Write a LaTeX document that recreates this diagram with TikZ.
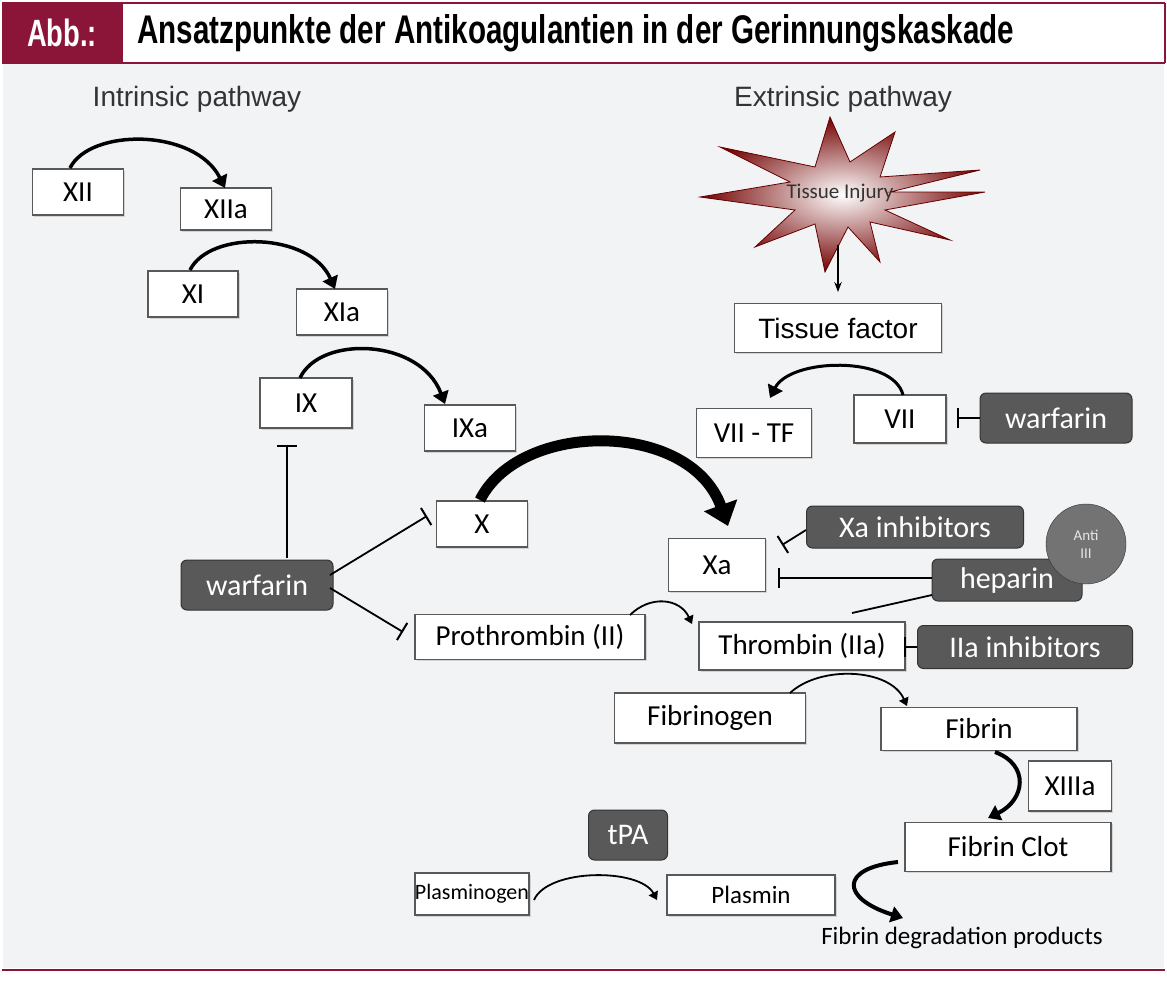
\documentclass[tikz,border=0pt]{standalone}
\usepackage{fontspec}
\setmainfont{Carlito}
\newfontfamily\arialf{Liberation Sans}
\usetikzlibrary{arrows.meta,shadows}
\definecolor{wine}{HTML}{8B1538}
\definecolor{bg}{HTML}{F2F3F5}
\definecolor{dk}{HTML}{595959}
\begin{document}
\begin{tikzpicture}[x=1pt,y=-1pt,
 bx/.style={draw=black!65,line width=1.3pt,fill=white,minimum height=46pt,inner sep=0pt,font=\fontsize{29}{32}\selectfont,drop shadow={shadow xshift=1.5pt,shadow yshift=-1.5pt,fill=black!25,opacity=.6}},
 dbx/.style={draw=black!80,line width=1pt,fill=dk,rounded corners=6pt,text=white,minimum height=44pt,inner sep=0pt,font=\fontsize{30}{32}\selectfont},
 act/.style={line width=3.5pt,-{Triangle[length=12pt,width=16pt]}},
 thin/.style={line width=1.8pt,-{Triangle[length=8pt,width=10pt]}},
 inh/.style={line width=1.8pt,-{Bar[width=20pt,line width=2pt]}}]
\useasboundingbox (0,0) rectangle (1167,980);
\fill[bg] (3,64) rectangle (1164,968);
% header
\draw[wine,line width=1.5pt] (2,3) -- (1165,3) (2,63) -- (1165,63) (2,970) -- (1165,970);
\fill[wine] (2,3) rectangle (123,63);
\draw[wine,line width=1.5pt] (1165,3)--(1165,63);
\node[text=white,font=\arialf\bfseries\fontsize{38}{40}\selectfont] (abb) at (62,33) {\scalebox{0.72}[1]{Abb.:}};
\node[anchor=west,font=\arialf\bfseries\fontsize{40}{42}\selectfont] (title) at (134,33) {\scalebox{0.74}[1]{Ansatzpunkte der Antikoagulantien in der Gerinnungskaskade}};
% pathway titles
\node[font=\arialf\fontsize{28}{30}\selectfont,text=black!80] (ip) at (197,99) {Intrinsic pathway};
\node[font=\arialf\fontsize{28}{30}\selectfont,text=black!80] (ep) at (843,99) {Extrinsic pathway};
% star
\shade[inner color=white,outer color=red!45!black,draw=red!40!black,line width=0.8pt]
 (840+145,192) -- (840+45,192+18) -- (840+110,192+48) -- (840+30,192+30) -- (840+40,192+70)
 -- (840+8,192+35) -- (840-15,192+80) -- (840-25,192+32) -- (840-85,192+55) -- (840-45,192+18)
 -- (840-140,192+5) -- (840-50,192-10) -- (840-120,192-45) -- (840-25,192-25) -- (840-10,192-75)
 -- (840+10,192-30) -- (840+55,192-60) -- (840+40,192-15) -- (840+140,192-22) -- (840+50,192) -- cycle;
\node[font=\fontsize{21}{22}\selectfont,text=black!80] (ti) at (840,193) {Tissue Injury};
% boxes
\node[bx,minimum width=91pt] (XII) at (78,192) {XII};
\node[bx,minimum width=91pt,minimum height=42pt] (XIIa) at (226,209) {XIIa};
\node[bx,minimum width=90pt] (XI) at (193,294) {XI};
\node[bx,minimum width=91pt] (XIa) at (342,312) {XIa};
\node[bx,minimum width=92pt,minimum height=50pt] (IX) at (306,403) {IX};
\node[bx,minimum width=91pt] (IXa) at (470,428) {IXa};
\node[bx,minimum width=91pt] (X) at (482,524) {X};
\node[bx,minimum width=97pt,minimum height=53pt] (Xa) at (717,565) {Xa};
\node[bx,minimum width=230pt,minimum height=45pt] (PT) at (530,637) {Prothrombin (II)};
\node[bx,minimum width=206pt,minimum height=48pt] (TH) at (802,646) {Thrombin (IIa)};
\node[bx,minimum width=207pt,minimum height=49pt,font=\arialf\fontsize{28}{30}\selectfont] (TF) at (838,328) {Tissue factor};
\node[bx,minimum width=115pt,minimum height=49pt] (VIITF) at (754,433) {VII - TF};
\node[bx,minimum width=92pt,minimum height=48pt] (VII) at (900,419) {VII};
\node[bx,minimum width=191pt,minimum height=50pt] (FG) at (710,718) {Fibrinogen};
\node[bx,minimum width=196pt,minimum height=43pt] (FB) at (979,729) {Fibrin};
\node[bx,minimum width=83pt,minimum height=50pt] (XIIIa) at (1070,786) {XIIIa};
\node[bx,minimum width=206pt,minimum height=49pt] (FC) at (1008,847) {Fibrin Clot};
\node[bx,minimum width=111pt,minimum height=42pt,font=\fontsize{22}{26}\selectfont] (PG) at (472,894) {Plasminogen};
\node[bx,minimum width=168pt,minimum height=40pt,font=\fontsize{25}{28}\selectfont] (PL) at (751,895) {Plasmin};
\node[font=\fontsize{25}{28}\selectfont] (FDP) at (962,938) {Fibrin degradation products};
% dark boxes
\node[dbx,minimum width=152pt,minimum height=50pt] (W1) at (257,585) {warfarin};
\node[dbx,minimum width=152pt,minimum height=50pt] (W2) at (1056,418) {warfarin};
\node[dbx,minimum width=217pt,minimum height=42pt] (XaI) at (915,527) {Xa inhibitors};
\node[dbx,minimum width=215pt,minimum height=43pt] (IIaI) at (1025,647) {IIa inhibitors};
\node[dbx,minimum width=150pt,minimum height=42pt] (HEP) at (1007,580) {heparin};
\node[circle,draw=black!80,fill=black!55,minimum size=80pt,inner sep=0pt,text=white!90!black,align=center,font=\fontsize{15}{18}\selectfont] (AT) at (1086,544) {Anti\\III};
\node[dbx,minimum width=79pt,minimum height=50pt] (tPA) at (628,835) {tPA};
% connector end points
\coordinate (c1) at (70,168);   \coordinate (c2) at (225,188);
\coordinate (c3) at (190,270);  \coordinate (c4) at (335,289);
\coordinate (c5) at (300,378);  \coordinate (c6) at (445,404);
\coordinate (c7) at (480,500);  \coordinate (c8) at (728,526);
\coordinate (c9) at (903,395);  \coordinate (c10) at (770,398);
\coordinate (c11) at (630,615); \coordinate (c12) at (692,624);
\coordinate (c13) at (790,693); \coordinate (c14) at (907,706);
\coordinate (c15) at (995,752); \coordinate (c16) at (988,818);
\coordinate (c17) at (898,862); \coordinate (c18) at (903,918);
\coordinate (c19) at (534,900); \coordinate (c20) at (657,900);
\coordinate (s1) at (838,245);  \coordinate (s2) at (838,292);
\coordinate (i1) at (287,558);  \coordinate (i2) at (287,445);
\coordinate (i3) at (330,575);  \coordinate (i4) at (427,516);
\coordinate (i5) at (330,588);  \coordinate (i6) at (403,632);
\coordinate (i7) at (980,418);  \coordinate (i8) at (957,418);
\coordinate (i9) at (806,530);  \coordinate (i10) at (782,545);
\coordinate (i11) at (932,578); \coordinate (i12) at (778,578);
\coordinate (i13) at (932,595); \coordinate (i14) at (852,613);
\coordinate (i15) at (917,647);
% activation arrows
\draw[act] (c1) .. controls (90,128) and (195,128) .. (c2);
\draw[act] (c3) .. controls (210,230) and (310,232) .. (c4);
\draw[act] (c5) .. controls (320,335) and (420,338) .. (c6);
\draw[line width=11pt,-{Triangle[length=22pt,width=34pt]}] (c7) .. controls (520,420) and (690,420) .. (c8);
\draw[act,line width=3pt] (c9) .. controls (893,355) and (790,358) .. (c10);
\draw[thin] (c11) .. controls (650,595) and (680,598) .. (c12);
\draw[thin] (c13) .. controls (820,665) and (890,668) .. (c14);
\draw[act,line width=4pt] (c15) .. controls (1030,765) and (1025,800) .. (c16);
\draw[act,line width=4pt] (c17) .. controls (840,868) and (840,898) .. (c18);
\draw[thin] (c19) .. controls (548,868) and (640,868) .. (c20);
\draw[line width=1.5pt,-{Stealth[length=10pt]}] (s1) -- (s2);
% inhibition
\draw[inh] (i1) -- (i2);
\draw[inh] (i3) -- (i4);
\draw[inh] (i5) -- (i6);
\draw[inh] (i7) -- (i8);
\draw[inh] (i9) -- (i10);
\draw[inh] (i11) -- (i12);
\draw[line width=1.8pt] (i13) -- (i14);
\draw[line width=1.8pt] (i15) -- ++(-12,0) coordinate (i17);
\draw[line width=2pt] (i17) ++(0,-10) -- ++(0,20);
\end{tikzpicture}
\end{document}
